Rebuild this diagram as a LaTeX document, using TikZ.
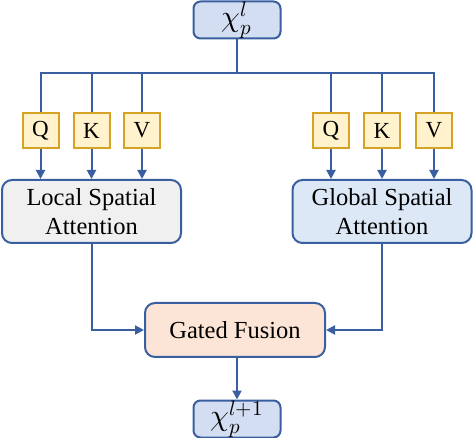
\documentclass[tikz,border=0pt]{standalone}
\usepackage{fontspec}
\usepackage{unicode-math}
\setmainfont{Liberation Serif}
\usetikzlibrary{arrows.meta}
\definecolor{lineblue}{HTML}{3A5FA0}
\definecolor{boxblue}{HTML}{D4DEF2}
\definecolor{qkvfill}{HTML}{FFF2CC}
\definecolor{qkvdraw}{HTML}{D6A325}
\definecolor{localfill}{HTML}{F0F0F0}
\definecolor{globalfill}{HTML}{DCE8F6}
\definecolor{fusefill}{HTML}{FCE5D6}
\tikzset{
  x=1pt,y=-1pt,
  conn/.style={draw=lineblue,line width=2pt},
  arr/.style={conn,-{Triangle[length=9pt,width=9pt]}},
  iobox/.style={draw=lineblue,line width=2pt,fill=boxblue,rounded corners=7pt,minimum width=87pt,minimum height=37pt,inner sep=0pt,font=\fontsize{30}{30}\selectfont},
  qkv/.style={draw=qkvdraw,line width=2pt,fill=qkvfill,minimum width=36pt,minimum height=35pt,inner sep=0pt,font=\fontsize{23}{26}\selectfont},
  attn/.style={draw=lineblue,line width=2pt,rounded corners=10pt,minimum width=179pt,minimum height=63pt,inner sep=0pt,align=center,font=\fontsize{24.5}{29}\selectfont},
}
\begin{document}
\begin{tikzpicture}
\useasboundingbox (0,0) rectangle (474,438);
\node[iobox] (in) at (237,20) {\raisebox{1pt}{$\chi_p^{l}$}};
\node[qkv] (q1) at (40.5,130.5) {Q};
\node[qkv] (k1) at (91.5,130.5) {K};
\node[qkv] (v1) at (142,130.5) {V};
\node[qkv] (q2) at (331,130.5) {Q};
\node[qkv] (k2) at (382,130.5) {K};
\node[qkv] (v2) at (434,130.5) {V};
\node[attn,fill=localfill] (loc) at (91.5,211.5) {Local Spatial\\Attention};
\node[attn,fill=globalfill] (glo) at (382,211.5) {Global Spatial\\Attention};
\node[draw=lineblue,line width=2pt,fill=fusefill,rounded corners=10pt,minimum width=180pt,minimum height=54pt,font=\fontsize{24.5}{28}\selectfont] (fuse) at (235,330) {Gated Fusion};
\node[iobox,yshift=-1pt] (out) at (237,418) {\raisebox{-2pt}{$\chi_p^{l+1}$}};
\coordinate (top) at (237,73);
\draw[conn] (in.south) -- (top);
\draw[conn] (q1.north) |- (top) -| (v2.north);
\foreach \n in {k1,v1,q2,k2}{\draw[conn] (\n.north) -- (\n.north |- top);}
\foreach \n/\m in {q1/loc,k1/loc,v1/loc,q2/glo,k2/glo,v2/glo}{\draw[arr] (\n.south) -- (\n.south |- \m.north);}
\draw[arr] (loc.south) |- (fuse.west);
\draw[arr] (glo.south) |- (fuse.east);
\draw[arr] (fuse.south -| out.north) -- (out.north);
\end{tikzpicture}
\end{document}
